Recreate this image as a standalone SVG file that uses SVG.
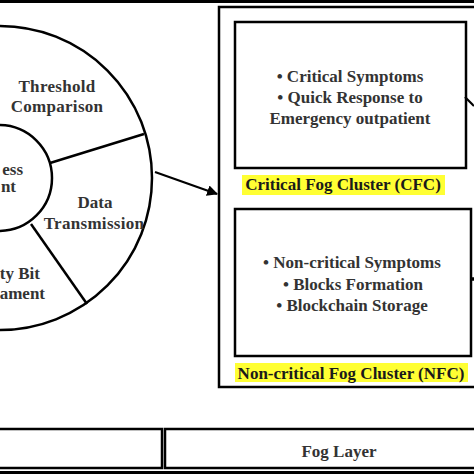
<svg xmlns="http://www.w3.org/2000/svg" width="474" height="474" viewBox="0 0 474 474">
<defs>
<style>
.t{font-family:"Liberation Serif","Times New Roman",serif;font-weight:bold;font-size:17px;fill:#333;text-anchor:middle}
.e{text-anchor:end}
.s{fill:none;stroke:#000;stroke-width:2.5}
.hl{fill:#ffff33}
</style>
<marker id="ah" viewBox="0 0 10 10" refX="9" refY="5" markerWidth="5" markerHeight="5" orient="auto">
<path d="M0,0 L10,5 L0,10 z" fill="#000"/>
</marker>
</defs>
<rect width="474" height="474" fill="#fff"/>
<line x1="0" y1="1.5" x2="474" y2="1.5" stroke="#000" stroke-width="3"/>

<g id="wheel">
<circle class="s" cx="0" cy="178" r="152"/>
<circle class="s" cx="-1" cy="178" r="53"/>
<line class="s" x1="50" y1="163" x2="144" y2="134"/>
<line class="s" x1="31" y1="224" x2="87" y2="304"/>
<text class="t" x="57" y="92" letter-spacing="0.3">Threshold</text>
<text class="t" x="57" y="112" letter-spacing="0.3">Comparison</text>
<text class="t e" x="23" y="175">ess</text>
<text class="t e" x="16" y="192">nt</text>
<text class="t" x="95" y="208">Data</text>
<text class="t" x="94" y="229" letter-spacing="0.3">Transmission</text>
<text class="t e" x="40" y="279">ty Bit</text>
<text class="t e" x="45" y="299">ament</text>
</g>

<g id="fog-cluster">
<rect class="s" x="219" y="7" width="260" height="380"/>
</g>

<g id="cfc">
<rect class="s" x="235" y="22" width="231" height="146"/>
<text class="t" x="350" y="82">• Critical Symptoms</text>
<text class="t" x="350" y="103">• Quick Response to</text>
<text class="t" x="350" y="124">Emergency outpatient</text>
<rect class="hl" x="242" y="175" width="203" height="20"/>
<text class="t" x="343" y="190" style="fill:#1a1a1a">Critical Fog Cluster (CFC)</text>
</g>

<g id="nfc">
<rect class="s" x="235" y="209" width="236" height="147"/>
<text class="t" x="352" y="268">• Non-critical Symptoms</text>
<text class="t" x="353" y="290">• Blocks Formation</text>
<text class="t" x="352" y="311">• Blockchain Storage</text>
<rect class="hl" x="235" y="363" width="233" height="19"/>
<text class="t" x="351" y="379" style="fill:#1a1a1a">Non-critical Fog Cluster (NFC)</text>
</g>

<g id="layers">
<rect class="s" x="-5" y="429" width="167" height="39"/>
<rect class="s" x="165" y="429" width="315" height="39"/>
<text class="t" x="339" y="457">Fog Layer</text>
<line x1="0" y1="472.5" x2="474" y2="472.5" stroke="#000" stroke-width="3"/>
</g>

<g id="connectors">
<line x1="155" y1="172" x2="217" y2="194" stroke="#000" stroke-width="2.2" marker-end="url(#ah)"/>
<line x1="465" y1="97" x2="474" y2="106" stroke="#000" stroke-width="2.2"/>
<line x1="470" y1="279" x2="474" y2="279" stroke="#000" stroke-width="3.5"/>
</g>
</svg>
